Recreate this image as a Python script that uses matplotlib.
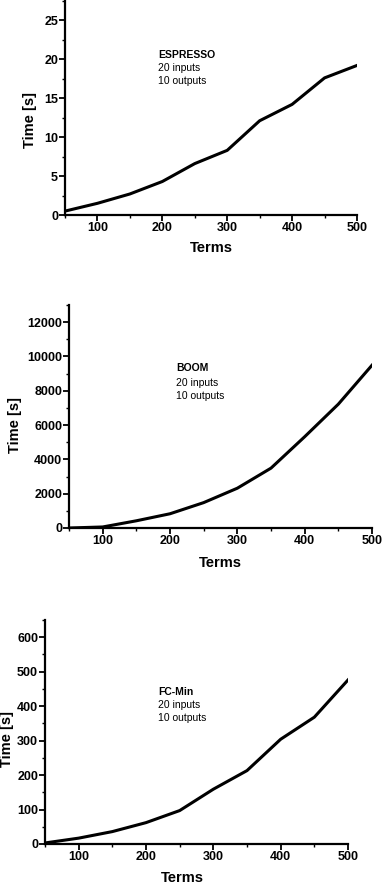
import matplotlib
matplotlib.use('Agg')
import matplotlib.pyplot as plt
from matplotlib.ticker import MultipleLocator

plt.rcParams['font.family'] = ['Liberation Sans', 'DejaVu Sans']

# --- Data ---
terms = [50, 100, 150, 200, 250, 300, 350, 400, 450, 500]
espresso_time = [0.5, 1.5, 2.7, 4.3, 6.6, 8.3, 12.1, 14.2, 17.6, 19.2]
boom_time = [0, 60, 420, 830, 1480, 2320, 3490, 5320, 7220, 9490]
fcmin_time = [3, 17, 36, 62, 97, 159, 213, 304, 368, 476]

tool_names = ['ESPRESSO', 'BOOM', 'FC-Min']
info_lines = ['20 inputs', '10 outputs']


def style_axis(ax, ydata, ymax, ymajor, yminor):
    ax.plot(terms, ydata, color='black', lw=2.2)
    ax.set_xlim(50, 500)
    ax.set_ylim(0, ymax)
    ax.xaxis.set_major_locator(MultipleLocator(100))
    ax.xaxis.set_minor_locator(MultipleLocator(50))
    ax.yaxis.set_major_locator(MultipleLocator(ymajor))
    ax.yaxis.set_minor_locator(MultipleLocator(yminor))
    for side in ['top', 'right']:
        ax.spines[side].set_visible(False)
    for side in ['left', 'bottom']:
        ax.spines[side].set_linewidth(1.6)
    ax.tick_params(which='major', direction='out', length=4, width=1.3,
                   labelsize=9, pad=1)
    ax.tick_params(which='minor', direction='out', length=2.5, width=1.0)
    for lbl in ax.get_xticklabels() + ax.get_yticklabels():
        lbl.set_fontweight('bold')
    ax.set_xlabel('Terms', fontsize=10.5, fontweight='bold')
    ax.set_ylabel('Time [s]', fontsize=10.5, fontweight='bold')


fig = plt.figure(figsize=(3.82, 8.84), dpi=100)
W, H = 382.0, 884.0

# axes boxes in pixels: left, right, top, bottom
boxes = [(65, 357, 0, 215), (69, 372, 305, 528), (45, 348, 620, 844)]
axes = []
for l, r, t, b in boxes:
    axes.append(fig.add_axes([l / W, 1 - b / H, (r - l) / W, (b - t) / H]))

style_axis(axes[0], espresso_time, 27.6, 5, 2.5)
style_axis(axes[1], boom_time, 13000, 2000, 1000)
style_axis(axes[2], fcmin_time, 650, 100, 50)

# label positions (axes fraction)
ylabel_pos = [(-0.12, 0.44), (-0.178, 0.46), (-0.125, 0.47)]
xlabel_pos = [(0.5, -0.153), (0.5, -0.157), (0.455, -0.152)]
for ax, yp, xp in zip(axes, ylabel_pos, xlabel_pos):
    ax.yaxis.set_label_coords(*yp)
    ax.xaxis.set_label_coords(*xp)
    ax.xaxis.label.set_va('center')
    ax.yaxis.label.set_va('center')

# annotation text (axes fraction)
text_pos = [
    (0.318, [0.744, 0.684, 0.623]),
    (0.353, [0.719, 0.649, 0.594]),
    (0.373, [0.68, 0.62, 0.564]),
]
for ax, name, (tx, ys) in zip(axes, tool_names, text_pos):
    ax.text(tx, ys[0], name, transform=ax.transAxes, fontsize=7.5,
            fontweight='bold', va='center', ha='left')
    for line, y in zip(info_lines, ys[1:]):
        ax.text(tx, y, line, transform=ax.transAxes, fontsize=7.5,
                va='center', ha='left')

fig.savefig('out.png', dpi=100)
